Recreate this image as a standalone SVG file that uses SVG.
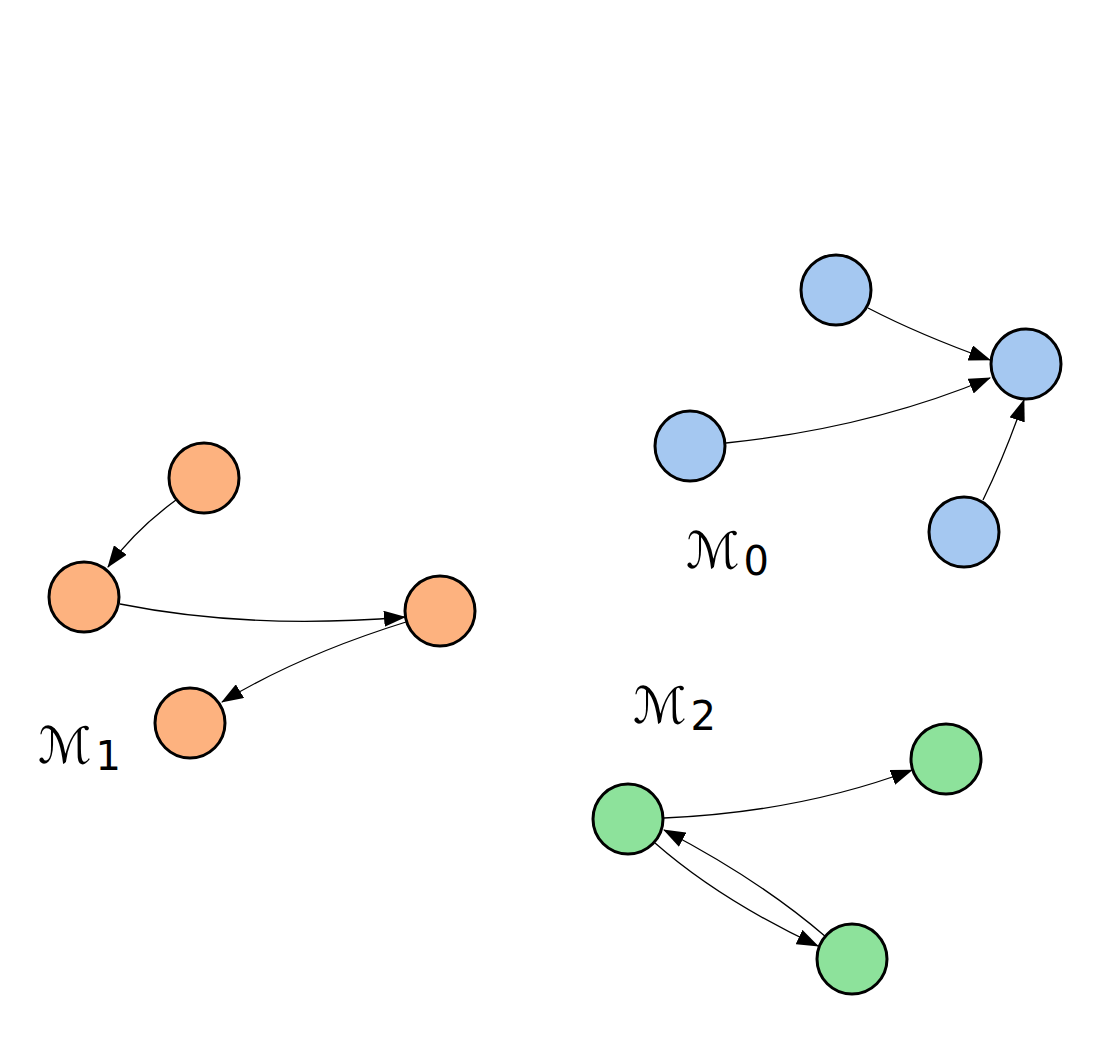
<svg xmlns="http://www.w3.org/2000/svg" width="1098" height="1037" viewBox="0 0 1098 1037">
<style>
.n{stroke:#000;stroke-width:3}
.b{fill:#a5c8f1}.o{fill:#fdb27f}.g{fill:#8de29b}
.e{fill:none;stroke:#000;stroke-width:1.3;marker-end:url(#a)}
.l{font-family:"DejaVu Sans",sans-serif;font-size:50px;font-style:italic}
.s{font-family:"DejaVu Sans",sans-serif;font-size:40px}
</style>
<defs><marker id="a" markerUnits="userSpaceOnUse" markerWidth="22" markerHeight="16" refX="21" refY="8" orient="auto"><path d="M0,0L22,8L0,16Z"/></marker></defs>
<rect width="1098" height="1037" fill="#fff"/>
<g id="edges">
<path class="e" d="M868,308Q920,335 990,360"/>
<path class="e" d="M726,443Q870,428 990,378"/>
<path class="e" d="M983,500Q1005,455 1024,400"/>
<path class="e" d="M176,500Q135,530 108,567"/>
<path class="e" d="M120,604Q250,630 405,617"/>
<path class="e" d="M406,622Q300,655 222,702"/>
<path class="e" d="M664,818Q800,812 912,770"/>
<path class="e" d="M655,843Q720,900 818,946"/>
<path class="e" d="M826,937Q760,880 664,830"/>
</g>
<g id="b1"><circle class="n b" cx="836" cy="290" r="35"/></g>
<g id="b2"><circle class="n b" cx="1026" cy="364" r="35"/></g>
<g id="b3"><circle class="n b" cx="690" cy="446" r="35"/></g>
<g id="b4"><circle class="n b" cx="964" cy="532" r="35"/></g>
<g id="o1"><circle class="n o" cx="204" cy="478" r="35"/></g>
<g id="o2"><circle class="n o" cx="84" cy="597" r="35"/></g>
<g id="o3"><circle class="n o" cx="440" cy="611" r="35"/></g>
<g id="o4"><circle class="n o" cx="190" cy="723" r="35"/></g>
<g id="g1"><circle class="n g" cx="628" cy="819" r="35"/></g>
<g id="g2"><circle class="n g" cx="946" cy="759" r="35"/></g>
<g id="g3"><circle class="n g" cx="852" cy="959" r="35"/></g>
<g id="labels">
<text class="l" x="686" y="568">ℳ<tspan class="s" dx="4" y="575" font-style="normal">0</tspan></text>
<text class="l" x="38" y="763">ℳ<tspan class="s" dx="4" y="770" font-style="normal">1</tspan></text>
<text class="l" x="633" y="723">ℳ<tspan class="s" dx="4" y="730" font-style="normal">2</tspan></text>
</g>
</svg>
